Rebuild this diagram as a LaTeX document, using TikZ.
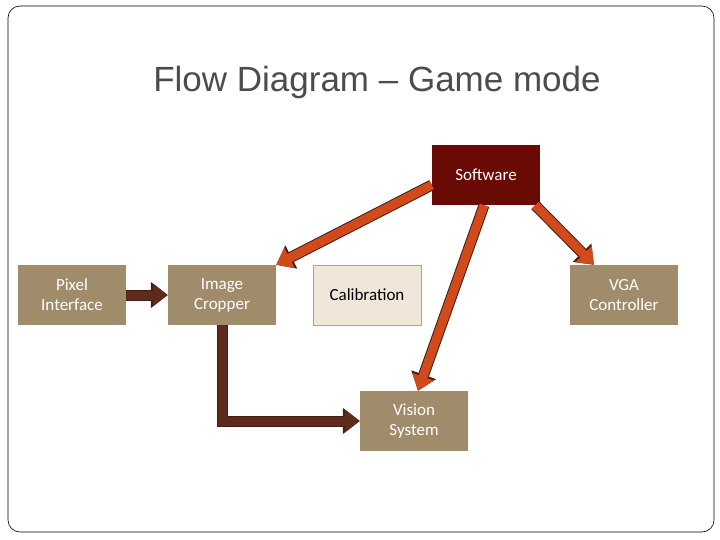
\documentclass[tikz,border=0pt]{standalone}
\usepackage{fontspec}
\setmainfont{Carlito}
\newfontfamily\titlefont{Liberation Sans}
\usetikzlibrary{arrows.meta, positioning}
\definecolor{boxtan}{HTML}{A08C6A}
\definecolor{softred}{HTML}{6A0A04}
\definecolor{calib}{HTML}{F1E6DA}
\definecolor{arrorange}{HTML}{D14A1C}
\definecolor{arrdark}{HTML}{5E2A1C}
\begin{document}
\begin{tikzpicture}[x=1pt, y=-1pt,
    block/.style={rectangle, fill=boxtan, text=white, minimum width=108pt, minimum height=60pt, align=center, font=\fontsize{17}{20}\selectfont, inner sep=0pt},
    fat/.style={line width=9pt, draw=arrorange, -{Triangle[length=15pt, width=22pt]}, preaction={draw=arrdark!70!black, line width=11pt, -{Triangle[length=17pt, width=25pt]}}},
    darkfat/.style={fat, draw=arrdark}]
    \useasboundingbox (0,0) rectangle (720,540);
    \draw[rounded corners=12pt, draw=black, line width=0.6pt] (8,6) rectangle (714,532);
    \node[font=\titlefont\fontsize{35}{40}\selectfont, text=black!70] (title) at (377,82) {Flow Diagram – Game mode};

    \node[block] (pixel) at (72,295) {Pixel\\Interface};
    \node[block] (crop) at (222,295) {Image\\Cropper};
    \node[block, fill=calib, text=black, draw=boxtan!80] (calib) at (367,295) {Calibration};
    \node[block] (vga) at (624,295) {VGA\\Controller};
    \node[block, fill=softred, minimum width=108pt] (soft) at (486,175) {Software};
    \node[block] (vision) at (414,421) {Vision\\System};

    \draw[darkfat] (pixel.east) -- (crop.west);
    \draw[darkfat] (crop.south) |- (vision.west);
    \draw[fat] (soft.west |- 0,185) -- (crop.north east);
    \draw[fat] ([xshift=-2pt]soft.south) -- ([xshift=4pt]vision.north);
    \draw[fat] ([xshift=-5pt]soft.south east) -- ([xshift=-30pt]vga.north);
\end{tikzpicture}
\end{document}
